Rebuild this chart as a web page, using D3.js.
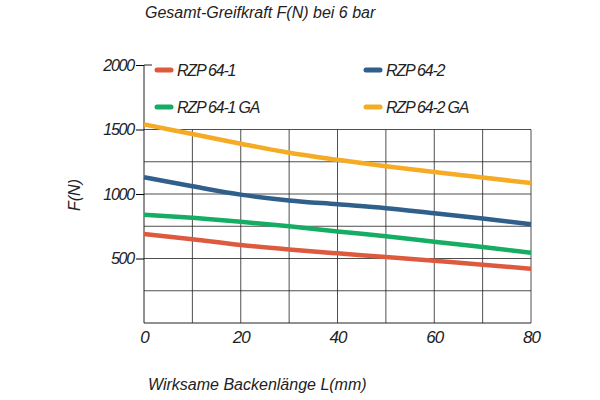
<!DOCTYPE html>
<html><head><meta charset="utf-8">
<script src="https://cdn.jsdelivr.net/npm/d3@7"></script>
<style>body{margin:0;background:#fff}text{font-family:"Liberation Sans",Arial,sans-serif;font-style:italic;fill:#222}</style>
</head><body><svg id="c" width="600" height="400"></svg>
<script>
const lengths = [0, 10, 20, 30, 40, 50, 60, 70, 80];
const rzp641 = [690, 650, 605, 570, 540, 512, 482, 452, 420];
const rzp642 = [1130, 1060, 995, 950, 920, 890, 850, 810, 765];
const rzp641ga = [840, 815, 785, 750, 710, 672, 630, 590, 545];
const rzp642ga = [1540, 1465, 1390, 1320, 1265, 1215, 1170, 1128, 1085];
const seriesNames = ["RZP 64-1", "RZP 64-2", "RZP 64-1 GA", "RZP 64-2 GA"];
const colors = ["#de5a3f", "#2f5f8a", "#15ad63", "#f5ab24"];
const yTicks = [500, 1000, 1500, 2000];

const svg = d3.select("#c");
const x = d3.scaleLinear().domain([0, 80]).range([144, 531]);
const y = d3.scaleLinear().domain([0, 2000]).range([323, 65]);

const g = svg.append("g");
// grid (below 1500)
d3.range(250, 1501, 250).forEach(v => g.append("line").attr("x1", x(0)).attr("x2", x(80))
  .attr("y1", y(v)).attr("y2", y(v)).attr("stroke", "#222").attr("stroke-width", 0.8));
d3.range(10, 81, 10).forEach(v => g.append("line").attr("x1", x(v)).attr("x2", x(v))
  .attr("y1", y(1500)).attr("y2", y(0)).attr("stroke", "#222").attr("stroke-width", 0.8));
g.append("line").attr("x1", x(0)).attr("x2", x(0)).attr("y1", y(2000)).attr("y2", y(0)).attr("stroke", "#222");
g.append("line").attr("x1", x(0)).attr("x2", x(80)).attr("y1", y(0)).attr("y2", y(0)).attr("stroke", "#222");

const yAxis = svg.append("g").attr("transform", `translate(${x(0)},0)`)
  .call(d3.axisLeft(y).tickValues(yTicks).tickFormat(d3.format("d")).tickSize(8).tickPadding(2));
yAxis.select(".domain").remove();
yAxis.selectAll("text").attr("font-size", 16).attr("letter-spacing", -1.2);
g.append("line").attr("x1", x(0)).attr("x2", x(0) + 8).attr("y1", y(2000)).attr("y2", y(2000)).attr("stroke", "#222");

const xAxis = svg.append("g").attr("transform", `translate(0,${y(0)})`)
  .call(d3.axisBottom(x).tickValues([0, 20, 40, 60, 80]).tickSize(0).tickPadding(8));
xAxis.select(".domain").remove();
xAxis.selectAll("text").attr("font-size", 17).attr("letter-spacing", -1);

const line = d3.line().x((d, i) => x(lengths[i])).y(d => y(d)).curve(d3.curveMonotoneX);
[rzp641, rzp642, rzp641ga, rzp642ga].forEach((s, i) =>
  svg.append("path").attr("d", line(s)).attr("fill", "none").attr("stroke", colors[i]).attr("stroke-width", 4.5));

// legend
const lx = [157, 366], ly = [70, 107];
seriesNames.forEach((n, i) => {
  const cx = lx[i % 2], cy = ly[Math.floor(i / 2)];
  svg.append("line").attr("x1", cx).attr("x2", cx + 14).attr("y1", cy).attr("y2", cy)
    .attr("stroke", colors[i]).attr("stroke-width", 5).attr("stroke-linecap", "round");
  svg.append("text").attr("x", cx + 20).attr("y", cy + 6).attr("font-size", 16).attr("letter-spacing", -1.2).text(n);
});

svg.append("text").attr("x", 145).attr("y", 18).attr("font-size", 16).text("Gesamt-Greifkraft F(N) bei 6 bar");
svg.append("text").attr("x", 148).attr("y", 390).attr("font-size", 16).text("Wirksame Backenlänge L(mm)");
svg.append("text").attr("transform", "translate(80,195) rotate(-90)").attr("text-anchor", "middle")
  .attr("font-size", 16).text("F(N)");
</script></body></html>
